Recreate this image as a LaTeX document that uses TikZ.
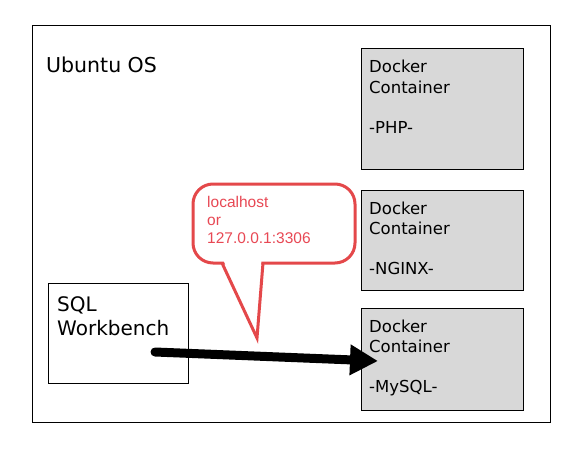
\documentclass[tikz,border=0pt]{standalone}
\usepackage{fontspec}
\setmainfont{DejaVu Sans}
\newfontfamily\calloutfont{Liberation Sans}
\usetikzlibrary{arrows.meta}
\definecolor{boxgrey}{RGB}{216,216,216}
\definecolor{callred}{RGB}{228,72,74}
\definecolor{calltext}{RGB}{232,72,84}
\tikzset{
  frame/.style={draw=black, line width=0.8pt, inner sep=0pt},
  dockerbox/.style={frame, fill=boxgrey, minimum width=162pt},
  lbl/.style={anchor=base west, inner sep=0pt},
  dtext/.style={lbl, font=\fontsize{16.5}{20}\selectfont},
  ctext/.style={lbl, text=calltext, font=\calloutfont\fontsize{15.5}{18}\selectfont},
}
\begin{document}
\begin{tikzpicture}[x=1pt, y=-1pt]
\useasboundingbox (0,0) rectangle (576,452);
% outer frame
\node (os) [frame, minimum width=518pt, minimum height=397pt] at (291,223.5) {};
\node (ostext) [lbl, font=\fontsize{20.5}{24}\selectfont] at (46,73) {Ubuntu OS};
% docker containers
\node (php) [dockerbox, minimum height=121pt] at (442,108.5) {};
\node (nginx) [dockerbox, minimum height=100pt] at (442,240) {};
\node (mysql) [dockerbox, minimum height=102pt] at (442,359) {};
\foreach \b/\t/\y in {php/-PHP-/73, nginx/-NGINX-/214, mysql/-MySQL-/332}{
  \node (\b a) [dtext] at (369,\y) {Docker};
  \node (\b b) [dtext] at (369,\y+20) {Container};
  \node (\b c) [dtext] at (369,\y+60) {\t};
}
% SQL Workbench
\node (sql) [frame, fill=white, minimum width=140pt, minimum height=100pt] at (118,333) {};
\node (sqla) [lbl, font=\fontsize{20}{24}\selectfont] at (57,311.5) {SQL};
\node (sqlb) [lbl, font=\fontsize{20}{24}\selectfont] at (57,335.5) {Workbench};
% callout
\node (bubble) [draw=callred, fill=white, line width=3pt, rounded corners=20pt,
  minimum width=162pt, minimum height=79pt] at (274,223.5) {};
\coordinate (pl) at (222,263);
\coordinate (pr) at (263,263);
\coordinate (ptip) at (257,338);
\fill[white] ([shift={(1.5,-2.5)}]pl) -- (ptip) -- ([shift={(-1.5,-2.5)}]pr) -- cycle;
\draw[callred, line width=3pt, line join=miter] (pl) -- (ptip) -- (pr);
\node (c1) [ctext] at (207,207.5) {localhost};
\node (c2) [ctext] at (207,225.5) {or};
\node (c3) [ctext] at (207,243.5) {127.0.0.1:3306};
% arrow
\coordinate (as) at (155,352);
\coordinate (at) at (378,361);
\draw[line width=9pt, line cap=round, -{Triangle[length=28pt,width=29pt]}] (as) -- (at);
\end{tikzpicture}
\end{document}
